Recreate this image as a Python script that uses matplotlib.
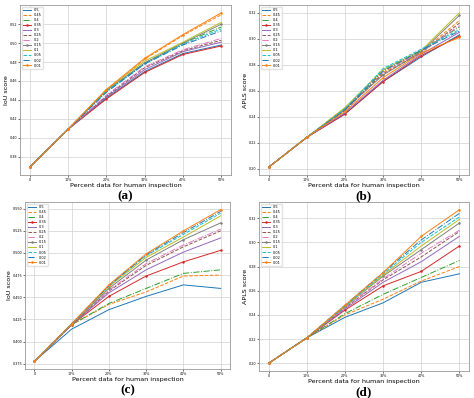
import matplotlib
matplotlib.use("Agg")
import matplotlib.pyplot as plt

x_labels = ['0', '10%', '20%', '30%', '40%', '50%']
thresholds = ['0.5', '0.45', '0.4', '0.35', '0.3', '0.25', '0.2', '0.15', '0.1', '0.05', '0.02', '0.01']

# (a) IoU score
iou_a = [
    [0.369, 0.409, 0.442, 0.470, 0.489, 0.498],
    [0.369, 0.409, 0.450, 0.483, 0.508, 0.530],
    [0.369, 0.409, 0.449, 0.479, 0.500, 0.517],
    [0.369, 0.409, 0.441, 0.469, 0.488, 0.497],
    [0.369, 0.409, 0.443, 0.472, 0.491, 0.501],
    [0.369, 0.409, 0.444, 0.474, 0.492, 0.503],
    [0.369, 0.409, 0.445, 0.475, 0.493, 0.505],
    [0.369, 0.409, 0.450, 0.479, 0.500, 0.520],
    [0.369, 0.409, 0.451, 0.481, 0.501, 0.522],
    [0.369, 0.409, 0.449, 0.478, 0.499, 0.515],
    [0.369, 0.409, 0.448, 0.478, 0.498, 0.513],
    [0.369, 0.409, 0.451, 0.484, 0.509, 0.532],
]

# (b) APLS score
apls_b = [
    [0.201, 0.224, 0.242, 0.267, 0.286, 0.303],
    [0.201, 0.224, 0.245, 0.274, 0.290, 0.314],
    [0.201, 0.224, 0.246, 0.276, 0.291, 0.309],
    [0.201, 0.224, 0.242, 0.267, 0.287, 0.302],
    [0.201, 0.224, 0.243, 0.268, 0.288, 0.305],
    [0.201, 0.224, 0.245, 0.273, 0.289, 0.312],
    [0.201, 0.224, 0.246, 0.275, 0.290, 0.310],
    [0.201, 0.224, 0.246, 0.272, 0.290, 0.318],
    [0.201, 0.224, 0.247, 0.276, 0.291, 0.320],
    [0.201, 0.224, 0.246, 0.277, 0.292, 0.307],
    [0.201, 0.224, 0.245, 0.275, 0.291, 0.306],
    [0.201, 0.224, 0.244, 0.270, 0.289, 0.301],
]

# (c) IoU score
iou_c = [
    [0.3776, 0.414, 0.436, 0.451, 0.464, 0.460],
    [0.3776, 0.419, 0.442, 0.456, 0.474, 0.475],
    [0.3776, 0.419, 0.443, 0.460, 0.477, 0.481],
    [0.3776, 0.419, 0.451, 0.474, 0.490, 0.503],
    [0.3776, 0.419, 0.455, 0.481, 0.501, 0.517],
    [0.3776, 0.419, 0.457, 0.486, 0.507, 0.525],
    [0.3776, 0.419, 0.458, 0.488, 0.509, 0.527],
    [0.3776, 0.419, 0.460, 0.492, 0.515, 0.534],
    [0.3776, 0.420, 0.462, 0.495, 0.518, 0.542],
    [0.3776, 0.420, 0.463, 0.497, 0.521, 0.545],
    [0.3776, 0.420, 0.463, 0.498, 0.523, 0.547],
    [0.3776, 0.420, 0.464, 0.499, 0.525, 0.549],
]

# (d) APLS score
apls_d = [
    [0.200, 0.221, 0.238, 0.250, 0.267, 0.274],
    [0.200, 0.221, 0.240, 0.253, 0.268, 0.280],
    [0.200, 0.221, 0.241, 0.257, 0.271, 0.285],
    [0.200, 0.221, 0.244, 0.264, 0.276, 0.297],
    [0.200, 0.221, 0.245, 0.267, 0.284, 0.305],
    [0.200, 0.221, 0.246, 0.269, 0.288, 0.309],
    [0.200, 0.221, 0.246, 0.270, 0.291, 0.310],
    [0.200, 0.221, 0.247, 0.272, 0.294, 0.316],
    [0.200, 0.221, 0.247, 0.273, 0.297, 0.319],
    [0.200, 0.221, 0.247, 0.274, 0.300, 0.321],
    [0.200, 0.221, 0.248, 0.275, 0.302, 0.324],
    [0.200, 0.221, 0.248, 0.275, 0.305, 0.327],
]

colors = ['tab:blue', 'tab:orange', 'tab:green', 'tab:red', 'tab:purple', 'tab:brown',
          'tab:pink', 'tab:gray', 'tab:olive', 'tab:cyan', 'tab:blue', 'tab:orange']
styles = [('-', None), ('--', None), ('-.', None), ('-', '.')] * 3

panels = [
    (iou_a, 'IoU score', [0.38, 0.40, 0.42, 0.44, 0.46, 0.48, 0.50, 0.52], '{:.2f}', '(a)',
     [20 / 474, 1 - 175 / 398, 211 / 474, 170 / 398]),
    (apls_b, 'APLS score', [0.20, 0.22, 0.24, 0.26, 0.28, 0.30, 0.32], '{:.2f}', '(b)',
     [259 / 474, 1 - 175 / 398, 210 / 474, 170 / 398]),
    (iou_c, 'IoU score', [0.375, 0.400, 0.425, 0.450, 0.475, 0.500, 0.525, 0.550], '{:.3f}', '(c)',
     [25 / 474, 1 - 369 / 398, 205 / 474, 167 / 398]),
    (apls_d, 'APLS score', [0.20, 0.22, 0.24, 0.26, 0.28, 0.30, 0.32], '{:.2f}', '(d)',
     [259 / 474, 1 - 371 / 398, 210 / 474, 169 / 398]),
]

fig = plt.figure(figsize=(4.74, 3.98), dpi=100)

for data, ylabel, yticks, fmt, caption, rect in panels:
    ax = fig.add_axes(rect)
    xs = list(range(len(x_labels)))
    for i, vals in enumerate(data):
        ls, mk = styles[i]
        ax.plot(xs, vals, color=colors[i], linestyle=ls, marker=mk, markersize=1.6,
                linewidth=0.7, label=thresholds[i])
    ax.set_xticks(xs)
    ax.set_xticklabels(x_labels)
    ax.set_yticks(yticks)
    ax.set_yticklabels([fmt.format(v) for v in yticks])
    ax.tick_params(labelsize=2.4, length=1.2, width=0.4, pad=1)
    ax.grid(True, color='#d0d0d0', linewidth=0.5)
    ax.set_xlabel('Percent data for human inspection', fontsize=4.6, labelpad=0.5)
    ax.set_ylabel(ylabel, fontsize=4.6, labelpad=0.5)
    for sp in ax.spines.values():
        sp.set_color('#999999')
        sp.set_linewidth(0.6)
    ax.legend(loc='upper left', fontsize=2.5, handlelength=2.4, labelspacing=0.3,
              frameon=True, framealpha=0.8, edgecolor='#dddddd', borderpad=0.4,
              handletextpad=0.6)
    cx = rect[0] + rect[2] / 2
    cy = rect[1] - 21 / 398
    fig.text(cx, cy, caption, ha='center', va='center', fontsize=9.5,
             fontweight='bold', family=['Liberation Serif', 'DejaVu Serif'])

fig.savefig('out.png', dpi=100)
